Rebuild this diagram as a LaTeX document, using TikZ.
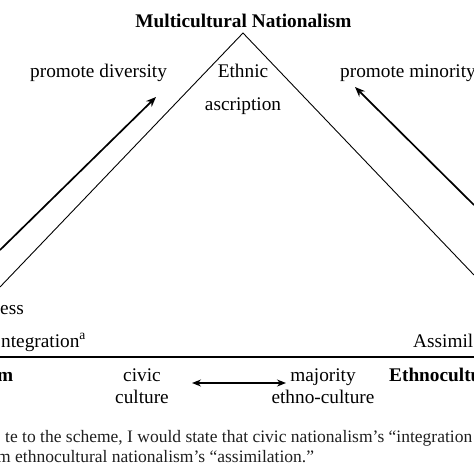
\documentclass[tikz,border=0pt]{standalone}
\usepackage{fontspec}
\setmainfont{Liberation Serif}
\usetikzlibrary{arrows.meta}
\begin{document}
\begin{tikzpicture}[x=1pt,y=-1pt,>={Stealth[length=9pt,width=7pt]}]
        \tikzstyle{lbl}=[inner sep=0pt,anchor=base,font=\fontsize{19.3}{23}\selectfont]
        \tikzstyle{lblw}=[lbl,anchor=base west]
        \tikzstyle{head}=[lbl,font=\fontsize{19.3}{23}\selectfont\bfseries]
        \tikzstyle{note}=[inner sep=0pt,anchor=base west,text=black!88,font=\fontsize{17.5}{20}\selectfont]
        \tikzstyle{side}=[line width=0.9pt]
        \tikzstyle{push}=[line width=1.7pt,-{Stealth[length=10pt,width=8pt]}]
        \useasboundingbox (0,0) rectangle (474,474);
        \clip (0,0) rectangle (474,474);
        % triangle
        \coordinate (apex) at (243,33);
        \coordinate (lfoot) at (0,287);
        \coordinate (rfoot) at (474,275);
        \draw[side] (lfoot) -- (apex) -- (rfoot);
        \node[head] (multi) at (243.5,27) {Multicultural Nationalism};
        % arrows along the sides
        \coordinate (ltail) at (0,250);
        \coordinate (ltip) at (156,97);
        \coordinate (rtail) at (474,205);
        \coordinate (rtip) at (355,87);
        \draw[push] (ltail) -- (ltip);
        \draw[push] (rtail) -- (rtip);
        \node[lblw] (div) at (30,77) {promote diversity};
        \node[lbl] (eth) at (243,77) {Ethnic};
        \node[lbl] (asc) at (243,110) {ascription};
        \node[lblw] (min) at (340,77) {promote minority};
        \node[lblw] (acc) at (0,314) {ess};
        \node[lblw] (integ) at (1,347) {ntegration\textsuperscript{a}};
        \node[lblw] (assim) at (413,347) {Assimil};
        % rule
        \coordinate (rl) at (0,357);
        \coordinate (rr) at (474,357);
        \draw[line width=1.3pt] (rl) -- (rr);
        \node[head,anchor=base west] (civn) at (-3,381) {m};
        \node[lbl] (civic) at (142,381) {civic};
        \node[lbl] (cult) at (142,403) {culture};
        \node[lbl] (maj) at (323,381) {majority};
        \node[lbl] (ethc) at (323,403) {ethno-culture};
        \node[head,anchor=base west] (ethn) at (389,381) {Ethnocultu};
        \coordinate (cend) at (192,383);
        \coordinate (mend) at (286,383);
        \draw[<->,line width=1.3pt] (cend) -- (mend);
        % note
        \node[note] (fn1) at (5,442) {te to the scheme, I would state that civic nationalism’s “integration};
        \node[note] (fn2) at (-3,462) {m ethnocultural nationalism’s “assimilation.”};
\end{tikzpicture}
\end{document}
